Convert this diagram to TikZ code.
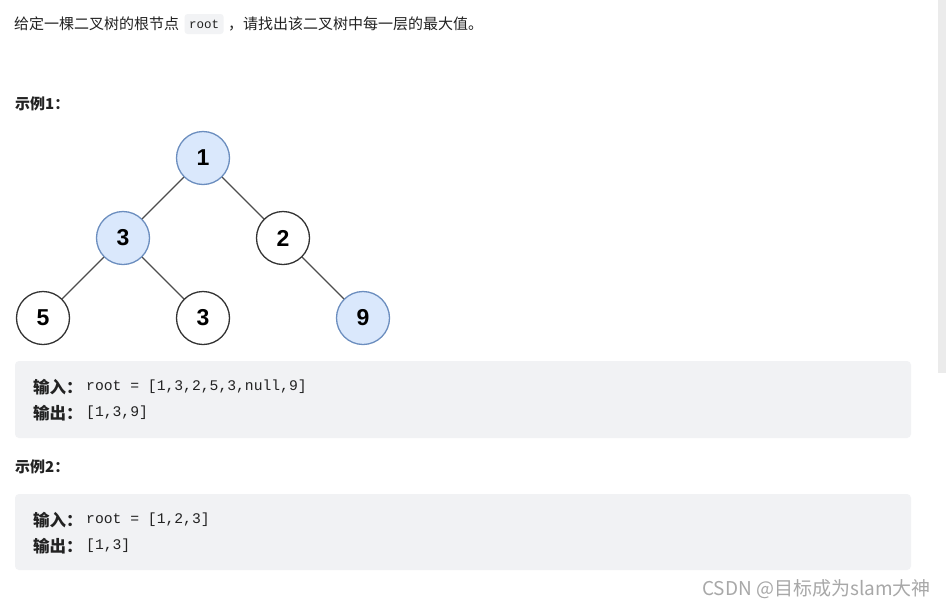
\documentclass[tikz,border=0pt]{standalone}
\usepackage{fontspec}
\setmainfont{Noto Sans CJK SC}
\newfontfamily\codefont{Liberation Mono}
\newfontfamily\digitfont{Liberation Sans}
\usetikzlibrary{positioning}
\definecolor{textcol}{HTML}{222222}
\definecolor{codebg}{HTML}{F1F2F4}
\definecolor{inlinebg}{HTML}{F2F3F5}
\definecolor{blueball}{HTML}{DAE8FC}
\definecolor{blueedge}{HTML}{6C8EBF}
\definecolor{ballline}{HTML}{333333}
\definecolor{edgecol}{HTML}{4D4D4D}
\definecolor{markcol}{HTML}{A8A8A8}
\definecolor{barcol}{HTML}{EBEBEB}
\tikzset{
  txt/.style={inner sep=0pt, anchor=west, text=textcol, font=\fontsize{15}{17}\selectfont},
  head/.style={txt, font=\fontsize{15}{17}\selectfont\bfseries},
  label/.style={txt, font=\fontsize{16.5}{18}\selectfont\bfseries},
  code/.style={inner sep=0pt, anchor=west, text=textcol, font=\fontsize{14.7}{17}\codefont},
  ball/.style={circle, minimum size=53pt, inner sep=0pt, draw=ballline, line width=1.3pt, fill=white,
    font=\fontsize{23}{26}\digitfont\bfseries},
  maxball/.style={ball, draw=blueedge, fill=blueball},
  codebox/.style={fill=codebg, rounded corners=4pt},
}

\begin{document}
\begin{tikzpicture}[x=1pt,y=-1pt]
    \useasboundingbox[fill=white] (0,0) rectangle (947,608);
    \fill[barcol] (938,0) rectangle (946,373);

    % problem statement
    \node[txt] (intro) at (14,24) {给定一棵二叉树的根节点};
    \node[inner sep=0pt, fill=inlinebg, rounded corners=3pt, minimum height=20pt, minimum width=39pt,
      text=textcol, font=\fontsize{12.5}{14}\codefont, right=5pt of intro] (rootkw) {root};
    \node[txt, right=4pt of rootkw] (rest) {，请找出该二叉树中每一层的最大值。};

    % example 1
    \node[head] (ex1) at (15,104) {示例1：};

    \node[maxball] (n1) at (203,158) {1};
    \node[maxball] (n3) at (123,238) {3};
    \node[ball] (n2) at (283,238) {2};
    \node[ball] (n5) at (43,318) {5};
    \node[ball] (n3b) at (203,318) {3};
    \node[maxball] (n9) at (363,318) {9};

    \draw[edgecol, line width=1.3pt] (n1) -- (n3);
    \draw[edgecol, line width=1.3pt] (n1) -- (n2);
    \draw[edgecol, line width=1.3pt] (n3) -- (n5);
    \draw[edgecol, line width=1.3pt] (n3) -- (n3b);
    \draw[edgecol, line width=1.3pt] (n2) -- (n9);

    \fill[codebox] (15,361) rectangle (911,438);
    \node[label] (in1) at (33,387) {输入：};
    \node[code] (in1v) at (86,387) {root = [1,3,2,5,3,null,9]};
    \node[label] (out1) at (33,413) {输出：};
    \node[code] (out1v) at (86,413) {[1,3,9]};

    % example 2
    \node[head] (ex2) at (15,467) {示例2：};

    \fill[codebox] (15,494) rectangle (911,570);
    \node[label] (in2) at (33,520) {输入：};
    \node[code] (in2v) at (86,520) {root = [1,2,3]};
    \node[label] (out2) at (33,546) {输出：};
    \node[code] (out2v) at (86,546) {[1,3]};

    \node[inner sep=0pt, anchor=east, text=markcol, font=\fontsize{19}{21}\selectfont] (mark) at (931,589)
      {CSDN @目标成为slam大神};
\end{tikzpicture}
\end{document}
